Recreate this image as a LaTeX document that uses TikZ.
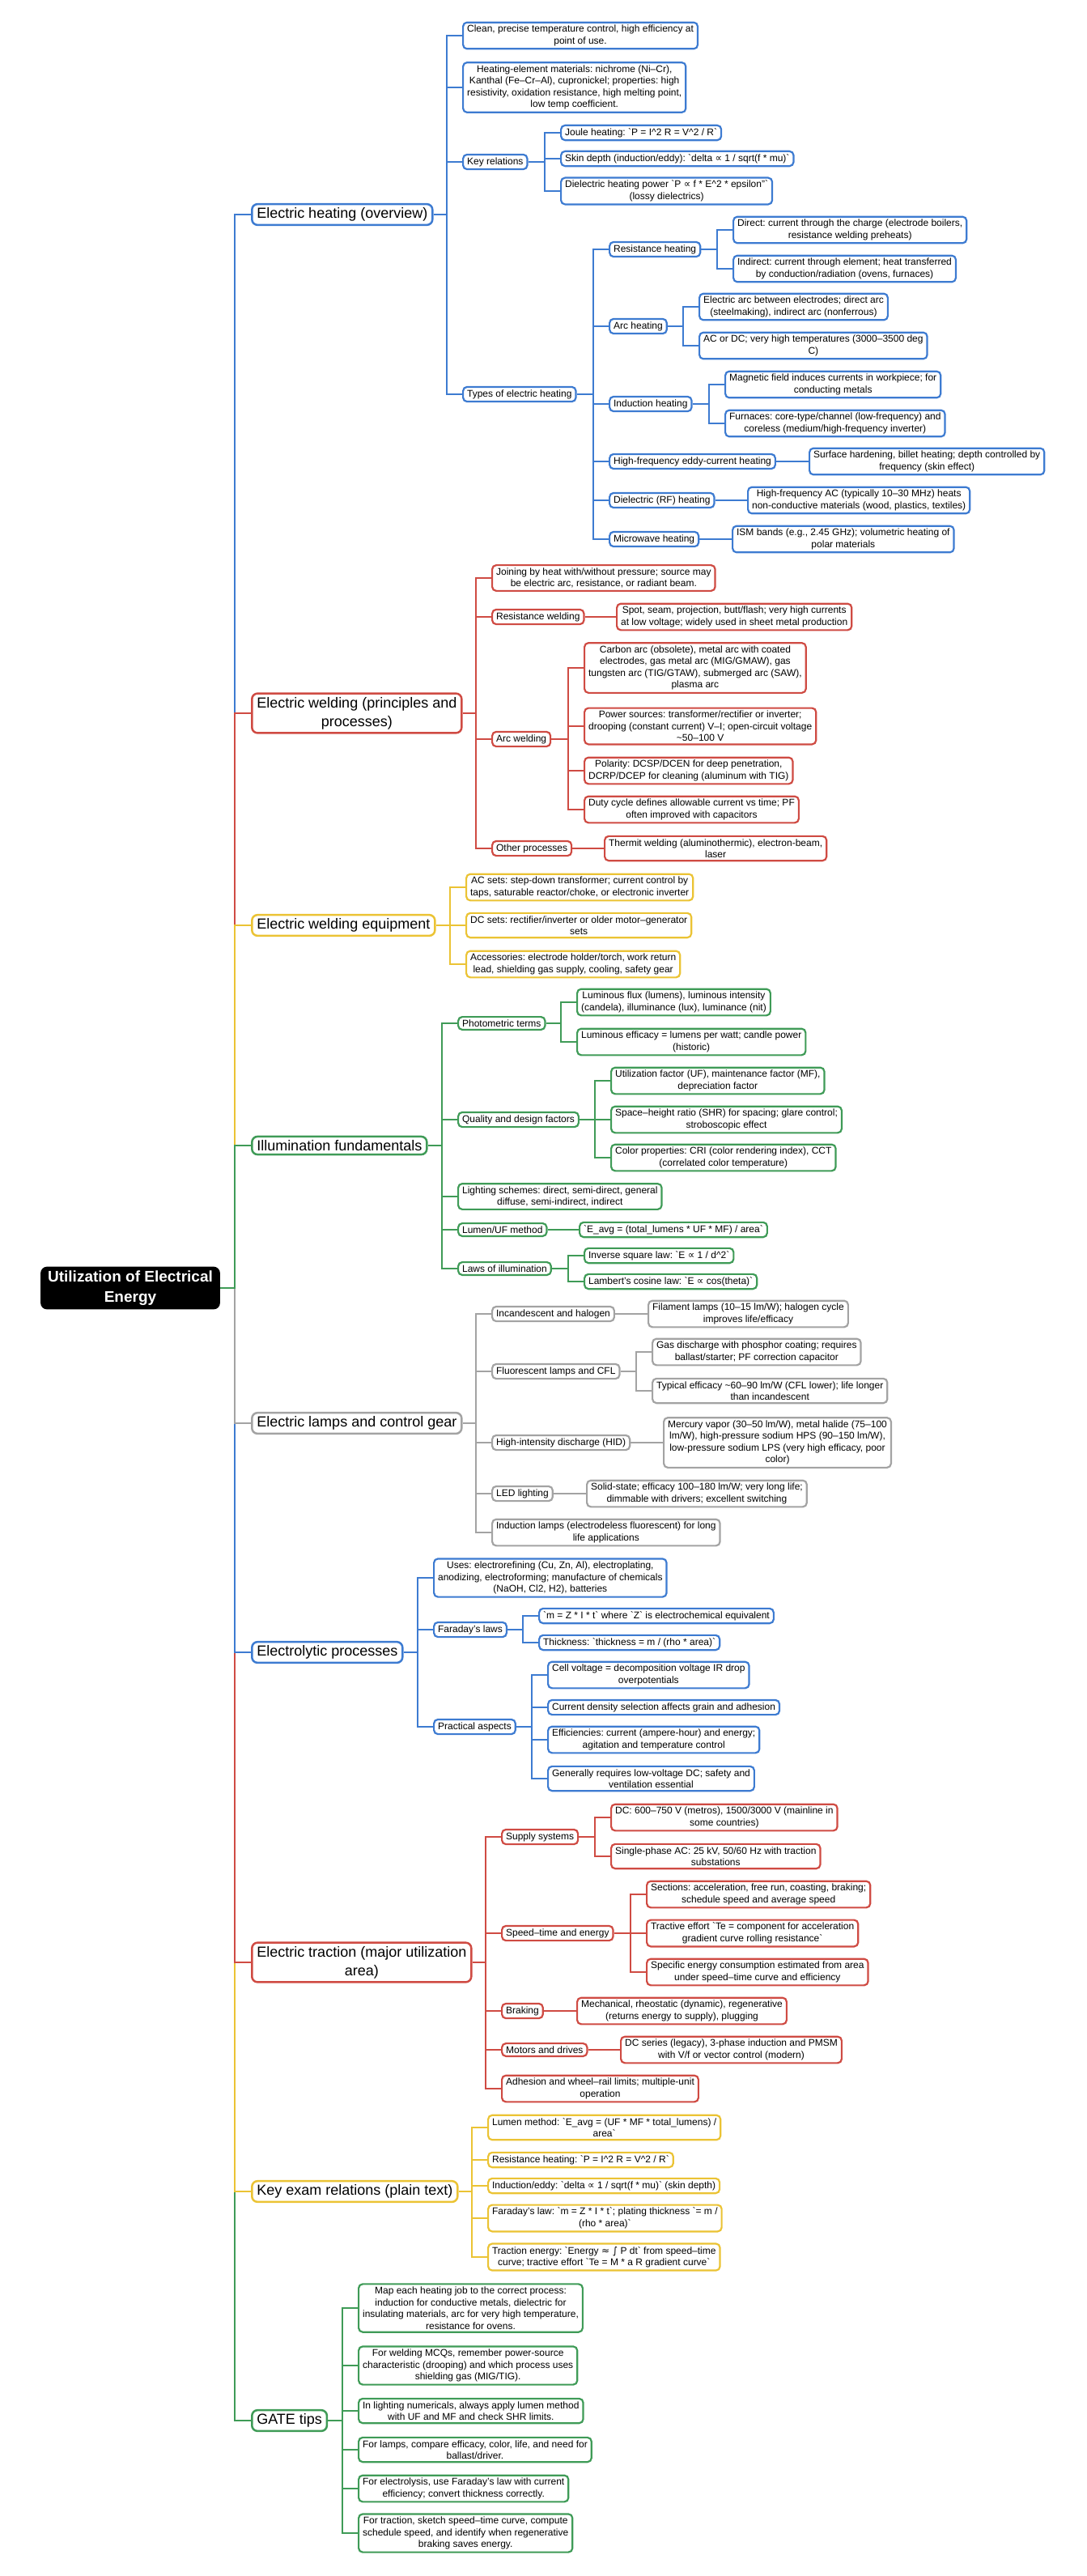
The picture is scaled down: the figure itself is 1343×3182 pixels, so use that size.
\documentclass[tikz,border=0pt]{standalone}
\usepackage{fontspec}
\setmainfont{Liberation Sans}
\newfontfamily\dvs{DejaVu Sans}
\usetikzlibrary{positioning}

\definecolor{cB}{HTML}{3D7BD1}
\definecolor{cR}{HTML}{CF4B43}
\definecolor{cY}{HTML}{EBC334}
\definecolor{cG}{HTML}{3F9B57}
\definecolor{cK}{HTML}{A3A3A3}

\newcommand\bq{\textasciigrave}
\newcommand\crt{\textasciicircum}
\newcommand\prop{{\dvs ∝}}

\tikzset{
  root/.style={fill=black, text=white, rounded corners=8pt, align=center,
    inner xsep=9pt, inner ysep=5pt, font=\fontsize{19}{25}\selectfont\bfseries},
  topic/.style={draw=#1, fill=white, line width=2.5pt, rounded corners=7pt, align=center,
    anchor=west, inner xsep=6pt, inner ysep=4.5pt, font=\fontsize{18}{23}\selectfont},
  leaf/.style={draw=#1, fill=white, line width=2.2pt, rounded corners=5pt, align=center,
    anchor=west, inner xsep=5pt, inner ysep=3.5pt, font=\fontsize{12}{14.5}\selectfont},
  link/.style={draw=#1, line width=2.5pt},
}

\begin{document}
\frenchspacing
\begin{tikzpicture}[x=1pt, y=-1pt]

\useasboundingbox (0,0) rectangle (1343,3182);

\node[root] (core) at (161,1591) {Utilization of Electrical\\Energy};

% Electric heating
\node[topic=cB] (heat) at (310,265) {Electric heating (overview)};
\node[leaf=cB] (clean) at (571,44) {Clean, precise temperature control, high efficiency at\\point of use.};
\node[leaf=cB] (elem) at (571,108) {Heating-element materials: nichrome (Ni–Cr),\\Kanthal (Fe–Cr–Al), cupronickel; properties: high\\resistivity, oxidation resistance, high melting point,\\low temp coefficient.};
\node[leaf=cB] (keyrel) at (571,200) {Key relations};
\node[leaf=cB] (joule) at (692,164) {Joule heating: \bq P = I\crt2 R = V\crt2 / R\bq};
\node[leaf=cB] (skin) at (692,196) {Skin depth (induction/eddy): \bq delta \prop{} 1 / sqrt(f * mu)\bq};
\node[leaf=cB] (diel) at (692,236) {Dielectric heating power \bq P \prop{} f * E\crt2 * epsilon''\bq\\(lossy dielectrics)};
\node[leaf=cB] (types) at (571,487) {Types of electric heating};
\node[leaf=cB] (resh) at (752,308) {Resistance heating};
\node[leaf=cB] (direct) at (905,284) {Direct: current through the charge (electrode boilers,\\resistance welding preheats)};
\node[leaf=cB] (indirect) at (905,332) {Indirect: current through element; heat transferred\\by conduction/radiation (ovens, furnaces)};
\node[leaf=cB] (arch) at (752,403) {Arc heating};
\node[leaf=cB] (elarc) at (863,379) {Electric arc between electrodes; direct arc\\(steelmaking), indirect arc (nonferrous)};
\node[leaf=cB] (acdc) at (863,427) {AC or DC; very high temperatures (3000–3500 deg\\C)};
\node[leaf=cB] (indh) at (752,499) {Induction heating};
\node[leaf=cB] (magn) at (895,475) {Magnetic field induces currents in workpiece; for\\conducting metals};
\node[leaf=cB] (furn) at (895,523) {Furnaces: core-type/channel (low-frequency) and\\coreless (medium/high-frequency inverter)};
\node[leaf=cB] (hfe) at (752,570) {High-frequency eddy-current heating};
\node[leaf=cB] (surf) at (999,570) {Surface hardening, billet heating; depth controlled by\\frequency (skin effect)};
\node[leaf=cB] (rfh) at (752,618) {Dielectric (RF) heating};
\node[leaf=cB] (hfac) at (923,618) {High-frequency AC (typically 10–30 MHz) heats\\non-conductive materials (wood, plastics, textiles)};
\node[leaf=cB] (mwh) at (752,666) {Microwave heating};
\node[leaf=cB] (ism) at (904,666) {ISM bands (e.g., 2.45 GHz); volumetric heating of\\polar materials};

% Electric welding
\node[topic=cR] (weld) at (310,881) {Electric welding (principles and\\processes)};
\node[leaf=cR] (join) at (607,714) {Joining by heat with/without pressure; source may\\be electric arc, resistance, or radiant beam.};
\node[leaf=cR] (resw) at (607,762) {Resistance welding};
\node[leaf=cR] (spot) at (761,762) {Spot, seam, projection, butt/flash; very high currents\\at low voltage; widely used in sheet metal production};
\node[leaf=cR] (arcw) at (607,913) {Arc welding};
\node[leaf=cR] (carbon) at (721,825) {Carbon arc (obsolete), metal arc with coated\\electrodes, gas metal arc (MIG/GMAW), gas\\tungsten arc (TIG/GTAW), submerged arc (SAW),\\plasma arc};
\node[leaf=cR] (power) at (721,897) {Power sources: transformer/rectifier or inverter;\\drooping (constant current) V–I; open-circuit voltage\\\textasciitilde50–100 V};
\node[leaf=cR] (polar) at (721,952) {Polarity: DCSP/DCEN for deep penetration,\\DCRP/DCEP for cleaning (aluminum with TIG)};
\node[leaf=cR] (duty) at (721,1000) {Duty cycle defines allowable current vs time; PF\\often improved with capacitors};
\node[leaf=cR] (other) at (607,1048) {Other processes};
\node[leaf=cR] (thermit) at (746,1048) {Thermit welding (aluminothermic), electron-beam,\\laser};

% Welding equipment
\node[topic=cY] (equip) at (310,1143) {Electric welding equipment};
\node[leaf=cY] (acs) at (575,1096) {AC sets: step-down transformer; current control by\\taps, saturable reactor/choke, or electronic inverter};
\node[leaf=cY] (dcs) at (575,1143) {DC sets: rectifier/inverter or older motor–generator\\sets};
\node[leaf=cY] (acc) at (575,1191) {Accessories: electrode holder/torch, work return\\lead, shielding gas supply, cooling, safety gear};

% Illumination
\node[topic=cG] (illum) at (310,1415) {Illumination fundamentals};
\node[leaf=cG] (photo) at (565,1264) {Photometric terms};
\node[leaf=cG] (flux) at (712,1238) {Luminous flux (lumens), luminous intensity\\(candela), illuminance (lux), luminance (nit)};
\node[leaf=cG] (effic) at (712,1287) {Luminous efficacy = lumens per watt; candle power\\(historic)};
\node[leaf=cG] (qual) at (565,1383) {Quality and design factors};
\node[leaf=cG] (uf) at (754,1335) {Utilization factor (UF), maintenance factor (MF),\\depreciation factor};
\node[leaf=cG] (shr) at (754,1383) {Space–height ratio (SHR) for spacing; glare control;\\stroboscopic effect};
\node[leaf=cG] (color) at (754,1430) {Color properties: CRI (color rendering index), CCT\\(correlated color temperature)};
\node[leaf=cG] (schemes) at (565,1478) {Lighting schemes: direct, semi-direct, general\\diffuse, semi-indirect, indirect};
\node[leaf=cG] (lumen) at (565,1519) {Lumen/UF method};
\node[leaf=cG] (eavg) at (715,1519) {\bq E\_avg = (total\_lumens * UF * MF) / area\bq};
\node[leaf=cG] (laws) at (565,1567) {Laws of illumination};
\node[leaf=cG] (invsq) at (721,1551) {Inverse square law: \bq E \prop{} 1 / d\crt2\bq};
\node[leaf=cG] (lambert) at (721,1583) {Lambert's cosine law: \bq E \prop{} cos(theta)\bq};

% Lamps
\node[topic=cK] (lamps) at (310,1758) {Electric lamps and control gear};
\node[leaf=cK] (incand) at (607,1623) {Incandescent and halogen};
\node[leaf=cK] (filam) at (800,1623) {Filament lamps (10–15 lm/W); halogen cycle\\improves life/efficacy};
\node[leaf=cK] (fluor) at (607,1694) {Fluorescent lamps and CFL};
\node[leaf=cK] (gasd) at (805,1670) {Gas discharge with phosphor coating; requires\\ballast/starter; PF correction capacitor};
\node[leaf=cK] (typeff) at (805,1718) {Typical efficacy \textasciitilde60–90 lm/W (CFL lower); life longer\\than incandescent};
\node[leaf=cK] (hid) at (607,1782) {High-intensity discharge (HID)};
\node[leaf=cK] (mercury) at (819,1782) {Mercury vapor (30–50 lm/W), metal halide (75–100\\lm/W), high-pressure sodium HPS (90–150 lm/W),\\low-pressure sodium LPS (very high efficacy, poor\\color)};
\node[leaf=cK] (led) at (607,1845) {LED lighting};
\node[leaf=cK] (solid) at (724,1845) {Solid-state; efficacy 100–180 lm/W; very long life;\\dimmable with drivers; excellent switching};
\node[leaf=cK] (indl) at (607,1893) {Induction lamps (electrodeless fluorescent) for long\\life applications};

% Electrolytic processes
\node[topic=cB] (elyt) at (310,2041) {Electrolytic processes};
\node[leaf=cB] (uses) at (535,1949) {Uses: electrorefining (Cu, Zn, Al), electroplating,\\anodizing, electroforming; manufacture of chemicals\\(NaOH, Cl2, H2), batteries};
\node[leaf=cB] (farad) at (535,2013) {Faraday's laws};
\node[leaf=cB] (mzit) at (665,1996) {\bq m = Z * I * t\bq{} where \bq Z\bq{} is electrochemical equivalent};
\node[leaf=cB] (thick) at (665,2029) {Thickness: \bq thickness = m / (rho * area)\bq};
\node[leaf=cB] (pract) at (535,2133) {Practical aspects};
\node[leaf=cB] (cellv) at (676,2069) {Cell voltage = decomposition voltage IR drop\\overpotentials};
\node[leaf=cB] (curd) at (676,2109) {Current density selection affects grain and adhesion};
\node[leaf=cB] (effs) at (676,2149) {Efficiencies: current (ampere-hour) and energy;\\agitation and temperature control};
\node[leaf=cB] (genl) at (676,2197) {Generally requires low-voltage DC; safety and\\ventilation essential};

% Electric traction
\node[topic=cR] (tract) at (310,2424) {Electric traction (major utilization\\area)};
\node[leaf=cR] (supply) at (619,2269) {Supply systems};
\node[leaf=cR] (dcsup) at (754,2245) {DC: 600–750 V (metros), 1500/3000 V (mainline in\\some countries)};
\node[leaf=cR] (single) at (754,2293) {Single-phase AC: 25 kV, 50/60 Hz with traction\\substations};
\node[leaf=cR] (speed) at (619,2388) {Speed–time and energy};
\node[leaf=cR] (sect) at (798,2340) {Sections: acceleration, free run, coasting, braking;\\schedule speed and average speed};
\node[leaf=cR] (tractive) at (798,2388) {Tractive effort \bq Te = component for acceleration\\gradient curve rolling resistance\bq};
\node[leaf=cR] (spec) at (798,2436) {Specific energy consumption estimated from area\\under speed–time curve and efficiency};
\node[leaf=cR] (brake) at (619,2484) {Braking};
\node[leaf=cR] (mech) at (712,2484) {Mechanical, rheostatic (dynamic), regenerative\\(returns energy to supply), plugging};
\node[leaf=cR] (motor) at (619,2532) {Motors and drives};
\node[leaf=cR] (dcser) at (766,2532) {DC series (legacy), 3-phase induction and PMSM\\with V/f or vector control (modern)};
\node[leaf=cR] (adh) at (619,2580) {Adhesion and wheel–rail limits; multiple-unit\\operation};

% Key exam relations
\node[topic=cY] (keyex) at (310,2707) {Key exam relations (plain text)};
\node[leaf=cY] (klum) at (602,2628) {Lumen method: \bq E\_avg = (UF * MF * total\_lumens) /\\area\bq};
\node[leaf=cY] (kres) at (602,2668) {Resistance heating: \bq P = I\crt2 R = V\crt2 / R\bq};
\node[leaf=cY] (kind) at (602,2700) {Induction/eddy: \bq delta \prop{} 1 / sqrt(f * mu)\bq{} (skin depth)};
\node[leaf=cY] (kfar) at (602,2740) {Faraday's law: \bq m = Z * I * t\bq; plating thickness \bq = m /\\(rho * area)\bq};
\node[leaf=cY] (ktra) at (602,2788) {Traction energy: \bq Energy {\dvs ≈ ∫} P dt\bq{} from speed–time\\curve; tractive effort \bq Te = M * a R gradient curve\bq};

% GATE tips
\node[topic=cG] (gate) at (310,2990) {GATE tips};
\node[leaf=cG] (g1) at (442,2851) {Map each heating job to the correct process:\\induction for conductive metals, dielectric for\\insulating materials, arc for very high temperature,\\resistance for ovens.};
\node[leaf=cG] (g2) at (442,2922) {For welding MCQs, remember power-source\\characteristic (drooping) and which process uses\\shielding gas (MIG/TIG).};
\node[leaf=cG] (g3) at (442,2978) {In lighting numericals, always apply lumen method\\with UF and MF and check SHR limits.};
\node[leaf=cG] (g4) at (442,3026) {For lamps, compare efficacy, color, life, and need for\\ballast/driver.};
\node[leaf=cG] (g5) at (442,3074) {For electrolysis, use Faraday's law with current\\efficiency; convert thickness correctly.};
\node[leaf=cG] (g6) at (442,3129) {For traction, sketch speed–time curve, compute\\schedule speed, and identify when regenerative\\braking saves energy.};

% trunk, farthest branches first
\foreach \b/\c in {gate/cG, keyex/cY, tract/cR, elyt/cB, lamps/cK, heat/cB, weld/cR, equip/cY, illum/cG}
  \draw[link=\c] (\b.west) -- ++(-20,0) |- (core.east);

% branch links
\foreach \n in {clean,elem,keyrel,types} \draw[link=cB] (\n.west) -- ++(-19,0) |- (heat.east);
\foreach \n in {joule,skin,diel} \draw[link=cB] (\n.west) -- ++(-19,0) |- (keyrel.east);
\foreach \n in {resh,arch,indh,hfe,rfh,mwh} \draw[link=cB] (\n.west) -- ++(-19,0) |- (types.east);
\foreach \n in {direct,indirect} \draw[link=cB] (\n.west) -- ++(-19,0) |- (resh.east);
\foreach \n in {elarc,acdc} \draw[link=cB] (\n.west) -- ++(-19,0) |- (arch.east);
\foreach \n in {magn,furn} \draw[link=cB] (\n.west) -- ++(-19,0) |- (indh.east);
\draw[link=cB] (hfe) -- (surf);
\draw[link=cB] (rfh) -- (hfac);
\draw[link=cB] (mwh) -- (ism);

\foreach \n in {join,resw,arcw,other} \draw[link=cR] (\n.west) -- ++(-19,0) |- (weld.east);
\draw[link=cR] (resw) -- (spot);
\foreach \n in {carbon,power,polar,duty} \draw[link=cR] (\n.west) -- ++(-19,0) |- (arcw.east);
\draw[link=cR] (other) -- (thermit);

\foreach \n in {acs,dcs,acc} \draw[link=cY] (\n.west) -- ++(-19,0) |- (equip.east);

\foreach \n in {photo,qual,schemes,lumen,laws} \draw[link=cG] (\n.west) -- ++(-19,0) |- (illum.east);
\foreach \n in {flux,effic} \draw[link=cG] (\n.west) -- ++(-19,0) |- (photo.east);
\foreach \n in {uf,shr,color} \draw[link=cG] (\n.west) -- ++(-19,0) |- (qual.east);
\draw[link=cG] (lumen) -- (eavg);
\foreach \n in {invsq,lambert} \draw[link=cG] (\n.west) -- ++(-19,0) |- (laws.east);

\foreach \n in {incand,fluor,hid,led,indl} \draw[link=cK] (\n.west) -- ++(-19,0) |- (lamps.east);
\draw[link=cK] (incand) -- (filam);
\foreach \n in {gasd,typeff} \draw[link=cK] (\n.west) -- ++(-19,0) |- (fluor.east);
\draw[link=cK] (hid) -- (mercury);
\draw[link=cK] (led) -- (solid);

\foreach \n in {uses,farad,pract} \draw[link=cB] (\n.west) -- ++(-19,0) |- (elyt.east);
\foreach \n in {mzit,thick} \draw[link=cB] (\n.west) -- ++(-19,0) |- (farad.east);
\foreach \n in {cellv,curd,effs,genl} \draw[link=cB] (\n.west) -- ++(-19,0) |- (pract.east);

\foreach \n in {supply,speed,brake,motor,adh} \draw[link=cR] (\n.west) -- ++(-19,0) |- (tract.east);
\foreach \n in {dcsup,single} \draw[link=cR] (\n.west) -- ++(-19,0) |- (supply.east);
\foreach \n in {sect,tractive,spec} \draw[link=cR] (\n.west) -- ++(-19,0) |- (speed.east);
\draw[link=cR] (brake) -- (mech);
\draw[link=cR] (motor) -- (dcser);

\foreach \n in {klum,kres,kind,kfar,ktra} \draw[link=cY] (\n.west) -- ++(-19,0) |- (keyex.east);

\foreach \n in {g1,g2,g3,g4,g5,g6} \draw[link=cG] (\n.west) -- ++(-19,0) |- (gate.east);

\end{tikzpicture}
\end{document}
